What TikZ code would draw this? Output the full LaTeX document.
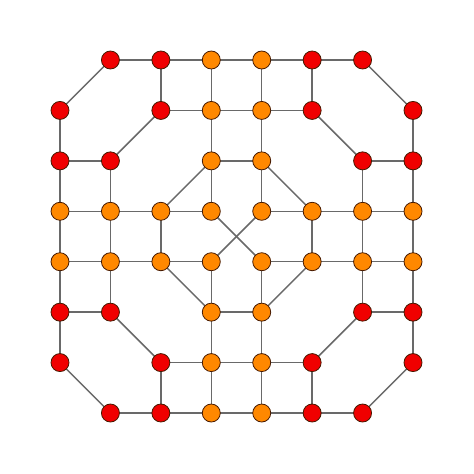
\documentclass[tikz,border=0pt]{standalone}
\pgfdeclarelayer{bg}
\pgfdeclarelayer{edges}
\pgfsetlayers{bg,edges,main}
\definecolor{nred}{RGB}{240,0,0}
\definecolor{norange}{RGB}{255,136,0}
\definecolor{edgegray}{RGB}{105,105,105}
\definecolor{rim}{RGB}{70,25,0}
\begin{document}
\begin{tikzpicture}[x=1pt,y=-1pt,
  vx/.style={circle,draw=rim,line width=0.8pt,minimum size=18pt,inner sep=0pt},
  rv/.style={vx,fill=nred},
  ov/.style={vx,fill=norange},
  ed/.style={draw=edgegray,line width=1.5pt}]
\begin{pgfonlayer}{bg}
  \fill[white] (0,0) rectangle (474,474);
\end{pgfonlayer}
\useasboundingbox (0,0) rectangle (474,474);
% nodes
\foreach \i/\j/\c in {
  1/0/rv,2/0/rv,3/0/ov,4/0/ov,5/0/rv,6/0/rv,
  0/1/rv,2/1/rv,3/1/ov,4/1/ov,5/1/rv,7/1/rv,
  0/2/rv,1/2/rv,3/2/ov,4/2/ov,6/2/rv,7/2/rv,
  0/3/ov,1/3/ov,2/3/ov,3/3/ov,4/3/ov,5/3/ov,6/3/ov,7/3/ov,
  0/4/ov,1/4/ov,2/4/ov,3/4/ov,4/4/ov,5/4/ov,6/4/ov,7/4/ov,
  0/5/rv,1/5/rv,3/5/ov,4/5/ov,6/5/rv,7/5/rv,
  0/6/rv,2/6/rv,3/6/ov,4/6/ov,5/6/rv,7/6/rv,
  1/7/rv,2/7/rv,3/7/ov,4/7/ov,5/7/rv,6/7/rv}
  \node[\c] (n\i\j) at ({60+50.43*\i},{60+50.43*\j}) {};
% edges
\begin{pgfonlayer}{edges}
\foreach \a/\b in {
  10/20,20/30,30/40,40/50,50/60,
  21/31,31/41,41/51,
  02/12,32/42,62/72,
  03/13,13/23,23/33,43/53,53/63,63/73,
  04/14,14/24,24/34,44/54,54/64,64/74,
  05/15,35/45,65/75,
  26/36,36/46,46/56,
  17/27,27/37,37/47,47/57,57/67,
  01/02,02/03,03/04,04/05,05/06,
  12/13,13/14,14/15,
  20/21,23/24,26/27,
  30/31,31/32,32/33,34/35,35/36,36/37,
  40/41,41/42,42/43,44/45,45/46,46/47,
  50/51,53/54,56/57,
  62/63,63/64,64/65,
  71/72,72/73,73/74,74/75,75/76,
  10/01,21/12,32/23,33/44,43/34,60/71,51/62,42/53,
  24/35,15/26,06/17,54/45,65/56,76/67}
  \draw[ed] (n\a.center) -- (n\b.center);
\end{pgfonlayer}
\end{tikzpicture}
\end{document}
